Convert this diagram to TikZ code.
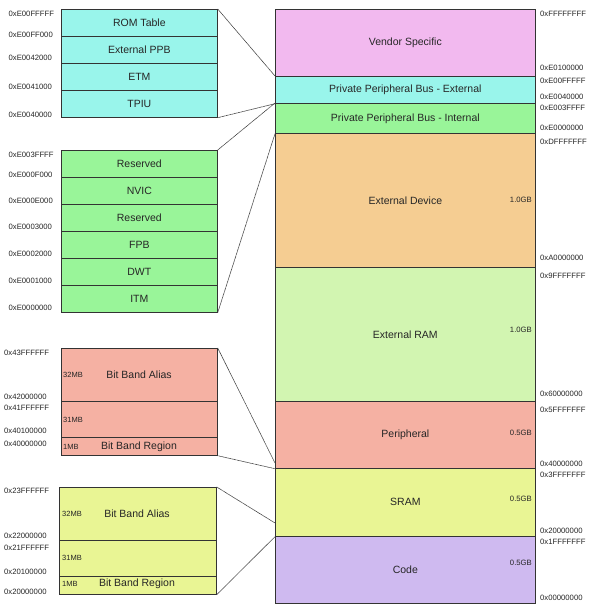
\documentclass[tikz,border=0pt]{standalone}
\usepackage{fontspec}
\setmainfont{Liberation Sans}
\definecolor{cvendor}{HTML}{F2B9EF}
\definecolor{cppbe}{HTML}{99F5EB}
\definecolor{cppbi}{HTML}{99F599}
\definecolor{cextdev}{HTML}{F5CD92}
\definecolor{cextram}{HTML}{D2F5B1}
\definecolor{cperiph}{HTML}{F5B1A3}
\definecolor{csram}{HTML}{E9F594}
\definecolor{ccode}{HTML}{CFBAF0}
\begin{document}
\begin{tikzpicture}[x=1pt,y=-1pt,
  region/.style={draw=black!80, line width=0.7pt, anchor=north west, inner sep=0pt,
    minimum width=260pt, font=\fontsize{10.5}{12}\selectfont, text=black!85},
  lrow/.style={draw=black!80, line width=0.7pt, anchor=north west, inner sep=0pt,
    minimum width=156pt, minimum height=27pt, font=\fontsize{10.5}{12}\selectfont, text=black!85},
  addr/.style={anchor=west, inner sep=0pt, font=\fontsize{7.7}{9}\selectfont, text=black!85},
  sizel/.style={anchor=east, inner sep=0pt, font=\fontsize{7.7}{9}\selectfont, text=black!85},
  inl/.style={anchor=west, inner sep=0pt, font=\fontsize{7.5}{9}\selectfont, text=black!85},
  bbl/.style={inner sep=0pt, font=\fontsize{10.5}{12}\selectfont, text=black!85},
  link/.style={draw=black!75, line width=0.6pt, dash pattern=on 1pt off 0.4pt}]
\useasboundingbox (0,0) rectangle (595,609);

% ---------- right column ----------
\node[region, fill=cvendor, minimum height=67pt] (vendor) at (275,9) {Vendor Specific};
\node[region, fill=cppbe, minimum height=27pt] (ppbE) at (275,76) {Private Peripheral Bus - External};
\node[region, fill=cppbi, minimum height=30pt] (ppbI) at (275,103) {Private Peripheral Bus - Internal};
\node[region, fill=cextdev, minimum height=134pt] (extdev) at (275,133) {External Device};
\node[region, fill=cextram, minimum height=134pt] (extram) at (275,267) {External RAM};
\node[region, fill=cperiph, minimum height=67pt] (periph) at (275,401) {Peripheral};
\node[region, fill=csram, minimum height=68pt] (sram) at (275,468) {SRAM};
\node[region, fill=ccode, minimum height=67pt] (code) at (275,536) {Code};

\node[sizel] (s1) at (532,200) {1.0GB};
\node[sizel] (s2) at (532,330) {1.0GB};
\node[sizel] (s3) at (532,433) {0.5GB};
\node[sizel] (s4) at (532,499) {0.5GB};
\node[sizel] (s5) at (532,563) {0.5GB};

\node[addr] (r1) at (540,14) {0xFFFFFFFF};
\node[addr] (r2) at (540,68) {0xE0100000};
\node[addr] (r3) at (540,81) {0xE00FFFFF};
\node[addr] (r4) at (540,97) {0xE0040000};
\node[addr] (r5) at (540,108) {0xE003FFFF};
\node[addr] (r6) at (540,128) {0xE0000000};
\node[addr] (r7) at (540,142) {0xDFFFFFFF};
\node[addr] (r8) at (540,258) {0xA0000000};
\node[addr] (r9) at (540,276) {0x9FFFFFFF};
\node[addr] (r10) at (540,394) {0x60000000};
\node[addr] (r11) at (540,410) {0x5FFFFFFF};
\node[addr] (r12) at (540,464) {0x40000000};
\node[addr] (r13) at (540,475) {0x3FFFFFFF};
\node[addr] (r14) at (540,531) {0x20000000};
\node[addr] (r15) at (540,542) {0x1FFFFFFF};
\node[addr] (r16) at (540,598) {0x00000000};

% ---------- PPB external detail ----------
\node[lrow, fill=cppbe] (rom) at (61,9) {ROM Table};
\node[lrow, fill=cppbe] (eppb) at (61,36) {External PPB};
\node[lrow, fill=cppbe] (etm) at (61,63) {ETM};
\node[lrow, fill=cppbe] (tpiu) at (61,90) {TPIU};

\node[addr] (a1) at (8.5,14) {0xE00FFFFF};
\node[addr] (a2) at (8.5,35) {0xE00FF000};
\node[addr] (a3) at (8.5,58) {0xE0042000};
\node[addr] (a4) at (8.5,87) {0xE0041000};
\node[addr] (a5) at (8.5,115) {0xE0040000};

% ---------- PPB internal detail ----------
\node[lrow, fill=cppbi] (res1) at (61,150) {Reserved};
\node[lrow, fill=cppbi] (nvic) at (61,177) {NVIC};
\node[lrow, fill=cppbi] (res2) at (61,204) {Reserved};
\node[lrow, fill=cppbi] (fpb) at (61,231) {FPB};
\node[lrow, fill=cppbi] (dwt) at (61,258) {DWT};
\node[lrow, fill=cppbi] (itm) at (61,285) {ITM};

\node[addr] (b1) at (8.5,155) {0xE003FFFF};
\node[addr] (b2) at (8.5,175) {0xE000F000};
\node[addr] (b3) at (8.5,201) {0xE000E000};
\node[addr] (b4) at (8.5,227) {0xE0003000};
\node[addr] (b5) at (8.5,254) {0xE0002000};
\node[addr] (b6) at (8.5,281) {0xE0001000};
\node[addr] (b7) at (8.5,308) {0xE0000000};

% ---------- Peripheral bit band ----------
\node[lrow, fill=cperiph, minimum height=53pt] (palias) at (61,348) {};
\node[lrow, fill=cperiph, minimum height=36pt] (p31) at (61,401) {};
\node[lrow, fill=cperiph, minimum height=18pt] (pregion) at (61,437) {};
\node[inl] (pm32) at (63,375) {32MB};
\node[bbl] (pt1) at (139,375) {Bit Band Alias};
\node[inl] (pm31) at (63,420) {31MB};
\node[inl] (pm1) at (63,447) {1MB};
\node[bbl] (pt2) at (139,446.5) {Bit Band Region};

\node[addr] (c1) at (4,353) {0x43FFFFFF};
\node[addr] (c2) at (4,397) {0x42000000};
\node[addr] (c3) at (4,408) {0x41FFFFFF};
\node[addr] (c4) at (4,431) {0x40100000};
\node[addr] (c5) at (4,444) {0x40000000};

% ---------- SRAM bit band ----------
\node[lrow, fill=csram, minimum width=157pt, minimum height=53pt] (salias) at (59,487) {};
\node[lrow, fill=csram, minimum width=157pt, minimum height=36pt] (s31) at (59,540) {};
\node[lrow, fill=csram, minimum width=157pt, minimum height=18pt] (sregion) at (59,576) {};
\node[inl] (sm32) at (62,514) {32MB};
\node[bbl] (st1) at (137,514) {Bit Band Alias};
\node[inl] (sm31) at (62,558) {31MB};
\node[inl] (sm1) at (62,584) {1MB};
\node[bbl] (st2) at (137,584) {Bit Band Region};

\node[addr] (d1) at (4,491) {0x23FFFFFF};
\node[addr] (d2) at (4,536) {0x22000000};
\node[addr] (d3) at (4,548) {0x21FFFFFF};
\node[addr] (d4) at (4,572) {0x20100000};
\node[addr] (d5) at (4,592) {0x20000000};

% ---------- connectors ----------
\coordinate (pA) at (275,463);
\coordinate (sA) at (275,523);
\draw[link] (rom.north east) -- (ppbE.north west);
\draw[link] (tpiu.south east) -- (ppbE.south west);
\draw[link] (res1.north east) -- (ppbI.north west);
\draw[link] (itm.south east) -- (ppbI.south west);
\draw[link] (palias.north east) -- (pA);
\draw[link] (pregion.south east) -- (periph.south west);
\draw[link] (salias.north east) -- (sA);
\draw[link] (sregion.south east) -- (sram.south west);
\end{tikzpicture}
\end{document}
